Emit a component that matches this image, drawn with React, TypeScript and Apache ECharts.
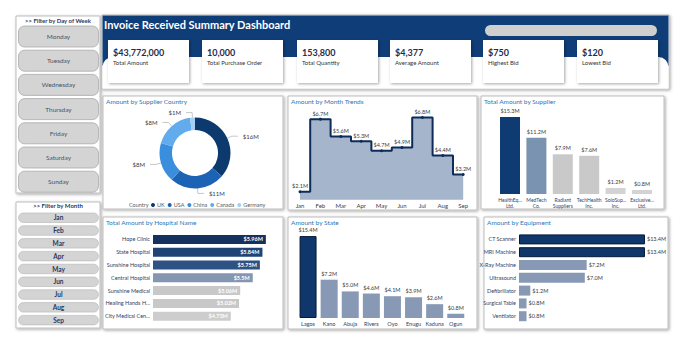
import React, { useEffect, useRef } from "react";
import * as echarts from "echarts";

const days = ["Monday", "Tuesday", "Wednesday", "Thursday", "Friday", "Saturday", "Sunday"];
const monthFilters = ["Jan", "Feb", "Mar", "Apr", "May", "Jun", "Jul", "Aug", "Sep"];
const kpiValues = ["$43,772,000", "10,000", "153,800", "$4,377", "$750", "$120"];
const kpiLabels = ["Total Amount", "Total Purchase Order", "Total Quantity", "Average Amount", "Highest Bid", "Lowest Bid"];

const countries = ["UK", "USA", "China", "Canada", "Germany"];
const countryAmounts = [16, 11, 8, 8, 1];

const months = ["Jan", "Feb", "Mar", "Apr", "May", "Jun", "Jul", "Aug", "Sep"];
const monthAmounts = [2.1, 6.7, 5.6, 5.3, 4.7, 4.9, 6.8, 4.4, 3.2];

const suppliers = ["HealthEq...\nLtd.", "MedTech\nCo.", "Radiant\nSuppliers", "TechHealth\nInc.", "SoloSup...\nInc.", "Exclusive...\nLtd."];
const supplierAmounts = [15.3, 11.2, 7.9, 7.6, 1.2, 0.8];

const hospitals = ["Hope Clinic", "State Hospital", "Sunshine Hospital", "Central Hospital", "Sunshine Medical", "Healing Hands H...", "City Medical Cen..."];
const hospitalAmounts = [5.96, 5.84, 5.75, 5.5, 5.06, 5.02, 4.73];

const states = ["Lagos", "Kano", "Abuja", "Rivers", "Oyo", "Enugu", "Kaduna", "Ogun"];
const stateAmounts = [15.4, 7.2, 5.0, 4.6, 4.1, 3.9, 2.6, 0.8];

const equipment = ["CT Scanner", "MRI Machine", "X-Ray Machine", "Ultrasound", "Defibrillator", "Surgical Table", "Ventilator"];
const equipmentAmounts = [13.4, 13.4, 7.2, 7.0, 1.2, 0.8, 0.8];

const FONT = "Lato, 'Open Sans', sans-serif";
const NAVY = "#0f3d78";

function panelRect(x: number, y: number, w: number, h: number, r: number = 0): any {
  return {
    type: "rect",
    shape: { x, y, width: w, height: h, r },
    style: {
      fill: "#ffffff",
      stroke: "#bdbdbd",
      lineWidth: 1,
      shadowBlur: 3,
      shadowColor: "rgba(0,0,0,0.35)",
      shadowOffsetX: 1,
      shadowOffsetY: 1,
    },
  };
}

function txt(x: number, y: number, text: string, font: string, fill: string, align: string = "left"): any {
  return {
    type: "text",
    x,
    y,
    style: { text, font, fill, textAlign: align, textVerticalAlign: "middle" },
  };
}

function buildGraphics(): any[] {
  const g: any[] = [];
  // Day of week filter panel
  g.push(panelRect(16, 16, 84, 177));
  g.push(txt(58, 20.5, ">> Filter by Day of Week", `bold 6px ${FONT}`, "#1f3864", "center"));
  days.forEach((d, i) => {
    const y = 26 + i * 24.2;
    g.push({
      type: "rect",
      shape: { x: 18.5, y, width: 80, height: 21, r: 6 },
      style: { fill: "#d4d4d4", stroke: "#a9a9a9", lineWidth: 0.8 },
    });
    g.push(txt(58.5, y + 10.5, d, `6.5px ${FONT}`, "#44546a", "center"));
  });
  // Month filter panel
  g.push(panelRect(16, 202, 84, 126));
  g.push(txt(58, 205.5, ">> Filter by Month", `bold 6px ${FONT}`, "#1f3864", "center"));
  monthFilters.forEach((m, i) => {
    const y = 213 + i * 12.8;
    g.push({
      type: "rect",
      shape: { x: 18.5, y, width: 80, height: 9.5, r: 4.75 },
      style: { fill: "#d4d4d4", stroke: "#b5b5b5", lineWidth: 0.6 },
    });
    g.push(txt(58.5, y + 4.9, m, `bold 6.5px ${FONT}`, "#1f3864", "center"));
  });
  // Header
  g.push(panelRect(102, 15, 567, 74));
  g.push({ type: "rect", shape: { x: 102.5, y: 15.5, width: 566, height: 50 }, style: { fill: NAVY } });
  g.push({ type: "rect", shape: { x: 102.5, y: 57, width: 566, height: 31.5, r: [10, 10, 0, 0] }, style: { fill: "#ffffff" } });
  g.push(txt(104, 24, "Invoice Received Summary Dashboard", `bold 11px ${FONT}`, "#ffffff"));
  g.push({ type: "rect", shape: { x: 485, y: 25, width: 172, height: 11, r: 5.5 }, style: { fill: "#cfcfcf" } });
  const cardX = [108, 202, 297, 390, 483, 577];
  cardX.forEach((x, i) => {
    g.push({
      type: "rect",
      shape: { x, y: 40, width: 81, height: 43 },
      style: { fill: "#ffffff", shadowBlur: 3, shadowColor: "rgba(0,0,0,0.35)", shadowOffsetX: 1, shadowOffsetY: 1 },
    });
    g.push(txt(x + 5, 52, kpiValues[i], `bold 9px ${FONT}`, "#1f2d4d"));
    g.push(txt(x + 5, 62, kpiLabels[i], `6px ${FONT}`, "#333333"));
  });
  // Chart panels
  const panels: [number, number, number, number, string][] = [
    [103, 96, 180, 113, "Amount by Supplier Country"],
    [288, 96, 189, 114, "Amount by Month Trends"],
    [481, 96, 183, 113, "Total Amount by Supplier"],
    [103, 217, 180, 112, "Total Amount by Hospital Name"],
    [288, 217, 189, 112, "Amount by State"],
    [484, 217, 184, 112, "Amount by Equipment"],
  ];
  panels.forEach(([x, y, w, h, t]) => {
    g.push(panelRect(x, y, w, h));
    g.push(txt(x + 3, y + 5.5, t, `6.5px ${FONT}`, "#2e75b6"));
  });
  g.push(txt(129, 204.5, "Country", `5.5px ${FONT}`, "#595959"));
  return g;
}

const pieColors = ["#0d3a6e", "#1c63b6", "#3a8ede", "#62abec", "#a6cff3"];
const supplierColors = ["#0f3b73", "#7a93b0", "#c9c9c9", "#c9c9c9", "#d3d3d3", "#d3d3d3"];
const hospitalColors = ["#15325f", "#1f4375", "#2e5283", "#8596b0", "#c8c8c8", "#c8c8c8", "#cdcdcd"];

export default function App() {
  const ref = useRef<HTMLDivElement>(null);
  useEffect(() => {
    if (!ref.current) return;
    const chart = echarts.init(ref.current, undefined, { renderer: "svg" });
    const catLabel = { fontSize: 5.5, color: "#2f3f5f", fontFamily: FONT };
    const valLabel = { fontSize: 5.5, color: "#404040", fontFamily: FONT };
    const option: any = {
      animation: false,
      backgroundColor: "#ffffff",
      textStyle: { fontFamily: FONT },
      graphic: { elements: buildGraphics() },
      legend: {
        data: countries,
        left: 151,
        top: 202,
        icon: "circle",
        itemWidth: 4,
        itemHeight: 4,
        itemGap: 3,
        padding: 0,
        z: 5,
        textStyle: { fontSize: 5.5, color: "#595959", padding: [0, 0, 0, -3] },
      },
      grid: [
        { left: 289.8, top: 108.1, width: 183.6, height: 91.6 },
        { left: 496.8, top: 103.5, width: 158.4, height: 90.5 },
        { left: 153, top: 233, width: 128.25, height: 89.6 },
        { left: 297.5, top: 227.6, width: 168.8, height: 90.4 },
        { left: 519, top: 233, width: 141, height: 89.6 },
      ],
      xAxis: [
        { gridIndex: 0, type: "category", data: months, boundaryGap: true, z: 5, axisLine: { show: false }, axisTick: { show: false }, axisLabel: { ...valLabel, fontSize: 6, margin: 3 } },
        { gridIndex: 1, type: "category", data: suppliers, z: 5, axisLine: { show: false }, axisTick: { show: false }, axisLabel: { ...catLabel, fontSize: 5, margin: 3, lineHeight: 6.2, interval: 0 } },
        { gridIndex: 2, type: "value", min: 2, max: 6.5, show: false },
        { gridIndex: 3, type: "category", data: states, z: 5, axisLine: { show: false }, axisTick: { show: false }, axisLabel: { ...catLabel, fontSize: 5.5, margin: 3, interval: 0 } },
        { gridIndex: 4, type: "value", min: 0, max: 15, show: false },
      ],
      yAxis: [
        { gridIndex: 0, type: "value", min: 1.6, max: 7.4, show: false },
        { gridIndex: 1, type: "value", min: 0, max: 18, show: false },
        { gridIndex: 2, type: "category", data: hospitals, inverse: true, z: 5, axisLine: { show: false }, axisTick: { show: false }, axisLabel: { ...catLabel, margin: 3, interval: 0 } },
        { gridIndex: 3, type: "value", min: 0, max: 17, show: false },
        { gridIndex: 4, type: "category", data: equipment, inverse: true, z: 5, axisLine: { show: false }, axisTick: { show: false }, axisLabel: { ...catLabel, margin: 3, interval: 0 } },
      ],
      series: [
        {
          type: "pie",
          center: [195, 153],
          radius: [23, 35.5],
          startAngle: 90,
          clockwise: true,
          data: countries.map((c, i) => ({ name: c, value: countryAmounts[i], itemStyle: { color: pieColors[i] } })),
          label: { show: true, formatter: (p: any) => `$${p.value}M`, fontSize: 6, color: "#404040" },
          labelLine: { show: true, length: 5, length2: 6, lineStyle: { color: "#a0a0a0", width: 0.6 } },
          emphasis: { disabled: true },
        },
        {
          type: "line",
          xAxisIndex: 0,
          yAxisIndex: 0,
          step: "middle",
          data: monthAmounts,
          lineStyle: { color: "#0d2c5a", width: 2 },
          areaStyle: { color: "#a5b5cb", opacity: 1 },
          symbol: "circle",
          symbolSize: 3,
          itemStyle: { color: "#0d2c5a" },
          label: { show: true, position: "top", distance: 1, formatter: (p: any) => `$${p.value.toFixed(1)}M`, ...valLabel },
        },
        {
          type: "bar",
          xAxisIndex: 1,
          yAxisIndex: 1,
          barWidth: 20,
          data: supplierAmounts.map((v, i) => ({ value: v, itemStyle: { color: supplierColors[i] } })),
          label: { show: true, position: "top", distance: 3, formatter: (p: any) => `$${p.value.toFixed(1)}M`, ...valLabel },
        },
        {
          type: "bar",
          xAxisIndex: 2,
          yAxisIndex: 2,
          barWidth: 9,
          data: hospitalAmounts.map((v, i) => ({ value: v, itemStyle: { color: hospitalColors[i] } })),
          label: { show: true, position: "insideRight", distance: 3, formatter: (p: any) => `$${p.value}M`, fontSize: 5.5, fontWeight: "bold", color: "#ffffff" },
        },
        {
          type: "bar",
          xAxisIndex: 3,
          yAxisIndex: 3,
          barWidth: 17,
          data: stateAmounts.map((v, i) => ({
            value: v,
            itemStyle: i === 0 ? { color: "#10376b", borderColor: "#061a38", borderWidth: 1 } : { color: "#8799b4" },
          })),
          label: { show: true, position: "top", distance: 3, formatter: (p: any) => `$${p.value.toFixed(1)}M`, ...valLabel },
        },
        {
          type: "bar",
          xAxisIndex: 4,
          yAxisIndex: 4,
          barWidth: 10,
          data: equipmentAmounts.map((v, i) => ({
            value: v,
            itemStyle: i < 2 ? { color: "#10376b", borderColor: "#061a38", borderWidth: 1 } : { color: "#8799b4" },
          })),
          label: { show: true, position: "right", distance: 2, formatter: (p: any) => `$${p.value.toFixed(1)}M`, ...valLabel },
        },
      ],
    };
    chart.setOption(option);
    return () => chart.dispose();
  }, []);
  return (
    <div
      ref={ref}
      style={{ position: "fixed", left: 0, top: 0, width: 680, height: 341, background: "#ffffff" }}
    />
  );
}
